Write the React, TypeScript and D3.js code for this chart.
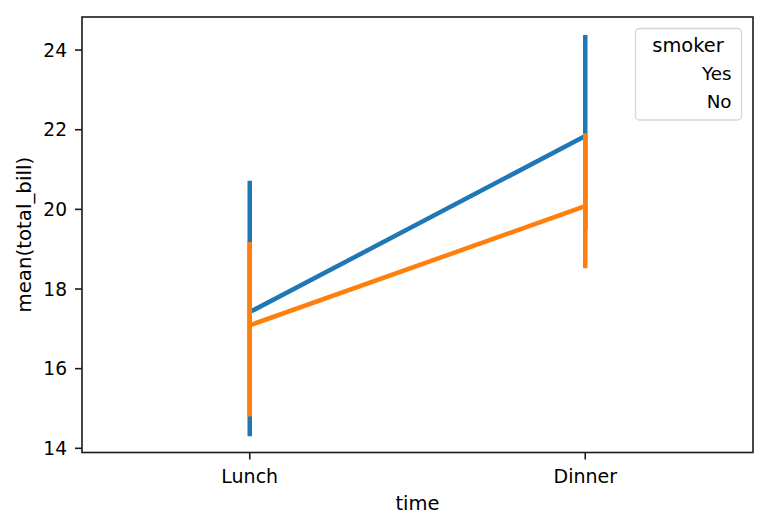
import React from 'react';
import * as d3 from 'd3';

const times = ['Lunch', 'Dinner'];
const smokers = ['Yes', 'No'];
const colors = ['#1f77b4', '#ff7f0e'];
// mean(total_bill) per smoker, per time
const means = [
  [17.42, 21.84],
  [17.09, 20.08],
];
const ciLow = [
  [14.3, 19.5],
  [14.8, 18.52],
];
const ciHigh = [
  [20.72, 24.38],
  [19.18, 21.91],
];
const yTicks = [14, 16, 18, 20, 22, 24];

const W = 769;
const H = 527;
const plot = { left: 82, right: 753, top: 17, bottom: 452.5 };
const font = '"DejaVu Sans", sans-serif';
const ink = '#000';
const spine = '#1a1a1a';

const App: React.FC = () => {
  const x = d3.scalePoint<string>().domain(times).range([plot.left, plot.right]).padding(0.5);
  const y = d3.scaleLinear().domain([13.895, 24.83]).range([plot.bottom, plot.top]);

  const line = d3
    .line<number>()
    .x((_, i) => x(times[i])!)
    .y((d) => y(d));

  return (
    <svg
      width={W}
      height={H}
      style={{ position: 'absolute', left: 0, top: 0, background: '#fff' }}
      fontFamily={font}
    >
      <rect x={0} y={0} width={W} height={H} fill="#fff" />

      {smokers.map((s, si) => (
        <g key={s}>
          <path d={line(means[si])!} fill="none" stroke={colors[si]} strokeWidth={4.5} />
          {times.map((t, ti) => (
            <line
              key={t}
              x1={x(t)}
              x2={x(t)}
              y1={y(ciLow[si][ti])}
              y2={y(ciHigh[si][ti])}
              stroke={colors[si]}
              strokeWidth={4.5}
            />
          ))}
        </g>
      ))}

      {/* frame */}
      <rect
        x={plot.left}
        y={plot.top}
        width={plot.right - plot.left}
        height={plot.bottom - plot.top}
        fill="none"
        stroke={spine}
        strokeWidth={1.6}
      />

      {/* y axis */}
      {yTicks.map((t) => (
        <g key={t}>
          <line x1={plot.left - 7} x2={plot.left} y1={y(t)} y2={y(t)} stroke={spine} strokeWidth={1.6} />
          <text
            x={plot.left - 15}
            y={y(t)}
            dy="0.36em"
            textAnchor="end"
            fontSize={18.6}
            fill={ink}
          >
            {t}
          </text>
        </g>
      ))}
      <text
        transform={`translate(24,${(plot.top + plot.bottom) / 2}) rotate(-90)`}
        textAnchor="middle"
        dy="0.36em"
        fontSize={19.8}
        fill={ink}
      >
        mean(total_bill)
      </text>

      {/* x axis */}
      {times.map((t) => (
        <g key={t}>
          <line x1={x(t)} x2={x(t)} y1={plot.bottom} y2={plot.bottom + 7} stroke={spine} strokeWidth={1.6} />
          <text x={x(t)} y={476} dy="0.36em" textAnchor="middle" fontSize={19} fill={ink}>
            {t}
          </text>
        </g>
      ))}
      <text x={(plot.left + plot.right) / 2} y={503} dy="0.36em" textAnchor="middle" fontSize={19.5} fill={ink}>
        time
      </text>

      {/* legend */}
      <rect x={635.5} y={28.5} width={106} height={91.5} rx={4} fill="#fff" fillOpacity={0.8} stroke="#d6d6d6" strokeWidth={1.3} />
      <text x={688} y={51.5} textAnchor="middle" fontSize={19.4} fill={ink}>
        smoker
      </text>
      {smokers.map((s, i) => (
        <text key={s} x={731.5} y={79.5 + i * 28} textAnchor="end" fontSize={18.3} fill={ink}>
          {s}
        </text>
      ))}
    </svg>
  );
};

export default App;
